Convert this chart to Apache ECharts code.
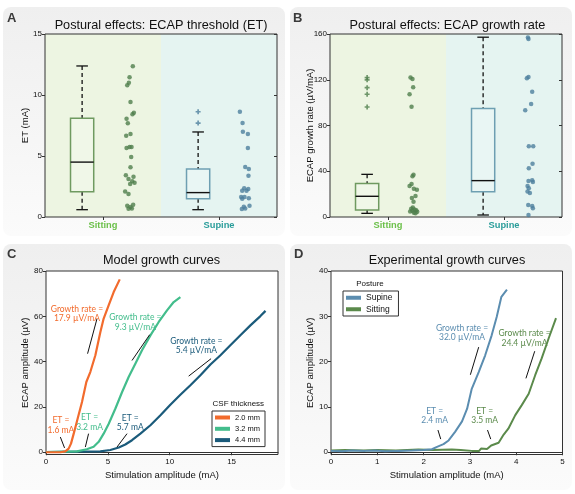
<!DOCTYPE html>
<html lang="en">
<head>
<meta charset="utf-8">
<title>ECAP posture figure</title>
<script src="https://cdn.jsdelivr.net/npm/echarts@6/dist/echarts.min.js"></script>
<style>
    * { margin: 0; padding: 0; }
    html, body { width: 100%; height: 100%; background: #fff; overflow: hidden; }
    #main { width: 575px; height: 494px; }
</style>
</head>
<body>
<div id="main"></div>
<script>
    // ---- data ----
    var groups = ['Sitting', 'Supine'];

    // box stats: [lower whisker, Q1, median, Q3, upper whisker]
    var etBox = [[0.6, 2.07, 4.5, 8.09, 12.38], [0.6, 1.5, 2.0, 3.93, 6.97]];
    var etOutliers = [[], [7.7, 8.63]];
    var etSitting = [12.35, 11.45, 11.0, 10.8, 9.43, 8.55, 8.42, 8.06, 7.68, 6.8, 6.66, 5.74, 5.74, 5.65, 4.92,
        4.07, 3.42, 3.3, 3.11, 2.93, 2.81, 2.7, 2.08, 1.88, 1.01, 0.93, 0.82, 0.7, 0.68];
    var etSittingJitter = [0.037, 0.009, 0.003, -0.011, 0.017, 0.046, 0.034, -0.017, -0.006, 0.017, -0.02, 0.026, 0.009,
        -0.017, 0.023, 0.017, -0.023, 0.043, 0, 0.032, 0.052, 0.014, -0.029, 0, 0.04, -0.011, 0.017, 0.029, 0];
    var etSupine = [8.63, 7.7, 6.99, 6.8, 5.66, 4.1, 3.93, 3.39, 2.35, 2.3, 2.16, 2.16, 1.64, 1.64, 1.53, 1.5,
        0.93, 0.85, 0.7, 0.66];
    var etSupineJitter = [-0.04, -0.017, -0.014, 0.029, 0.029, 0.006, 0.037, 0.034, -0.003, 0.032, -0.02, 0.017,
        -0.029, 0, 0.037, -0.02, 0.043, -0.006, 0.006, -0.023];

    var grBox = [[3.2, 6.1, 18.1, 29.2, 37.3], [1.75, 22.1, 31.8, 94.8, 157.2]];
    var grOutliers = [[96.2, 107.3, 113.1, 119.9, 121.9], []];
    var grSitting = [121.9, 120.7, 113.5, 107.3, 96.5, 37.0, 35.6, 28.9, 27.1, 24.8, 23.9, 18.4, 16.6, 13.4, 8.2,
        7.3, 6.5, 5.8, 5.5, 4.7, 4.5, 3.8, 3.2];
    var grSittingJitter = [-0.026, -0.009, -0.003, -0.034, -0.017, 0, -0.009, -0.017, -0.034, 0.003, 0.029, 0.017,
        -0.014, 0, -0.006, -0.02, 0.009, 0.023, -0.011, -0.029, 0.032, 0.003, 0.017];
    var grSupine = [156.9, 155.7, 122.5, 121.3, 109.6, 98.9, 93.3, 61.8, 61.8, 46.6, 42.6, 32.1, 31.5, 30.5, 27.1,
        25.1, 22.2, 21.0, 10.5, 9.6, 7.6, 1.75];
    var grSupineJitter = [-0.014, -0.009, -0.009, -0.023, 0.023, 0.014, -0.037, -0.006, 0.032, 0.026, -0.006, 0.023,
        -0.009, 0.029, -0.017, -0.006, -0.017, 0.003, -0.011, 0.023, 0.029, -0.009];

    // model growth curves (stimulation mA, ECAP uV), one per CSF thickness
    var csfNames = ['2.0 mm', '3.2 mm', '4.4 mm'];
    var model20 = [[0, 0], [1.16, 0], [1.56, 0.4], [1.83, 1.6], [2.02, 3.8], [2.24, 8.2], [2.56, 14.9], [2.91, 22.2],
        [3.26, 31], [3.58, 35.4], [3.99, 42.8], [4.39, 53], [4.66, 59], [5.07, 64.9], [5.47, 70.7], [5.96, 76.3]];
    var model32 = [[0, 0.1], [2.5, 0.4], [3.3, 1.3], [3.85, 2.4], [4.26, 4.6], [4.66, 8.2], [5.07, 12.6], [5.61, 19.3],
        [6.15, 26.6], [6.68, 33.2], [7.22, 39.1], [7.76, 45], [8.44, 51.6], [9.11, 57.5], [9.78, 62.6], [10.32, 66.3],
        [10.86, 68.5]];
    var model44 = [[0, 0.1], [4.39, 0.4], [5.2, 1.0], [5.88, 2.1], [6.41, 3.4], [6.95, 5.3], [7.63, 8.2], [8.44, 11.9],
        [9.25, 16.3], [10.05, 21], [10.86, 25.4], [11.67, 29.6], [12.48, 34], [13.29, 38.7], [14.1, 42.8],
        [14.9, 47.2], [15.71, 51.6], [16.52, 56], [17.33, 60.1], [17.74, 62.4]];
    var modelET = [1.6, 3.2, 5.7];
    var modelRate = [17.9, 9.3, 5.4];

    // experimental growth curves
    var postureNames = ['Supine', 'Sitting'];
    var expSupine = [[0, 0.3], [0.24, 0.2], [0.45, 0.37], [0.74, 0.3], [0.96, 0.37], [1.17, 0.2], [1.46, 0.3],
        [1.75, 0.37], [2.0, 0.5], [2.18, 0.66], [2.29, 1.2], [2.43, 1.8], [2.54, 2.6], [2.68, 4.5], [2.83, 6.8],
        [2.94, 9.6], [3.04, 14], [3.19, 17.7], [3.33, 21.4], [3.47, 25.8], [3.58, 29.9], [3.68, 34.3], [3.8, 35.9]];
    var expSitting = [[0, 0.4], [0.3, 0.5], [0.7, 0.4], [1.0, 0.5], [1.4, 0.4], [1.89, 0.6], [2.2, 0.5], [2.61, 0.6],
        [2.8, 0.5], [3.04, 0.3], [3.2, 0.3], [3.24, 0.8], [3.37, 0.7], [3.46, 1.5], [3.62, 2.1], [3.73, 3.9],
        [3.83, 5.2], [3.98, 8.2], [4.12, 10.4], [4.27, 12.9], [4.41, 17], [4.55, 20.7], [4.7, 25.1], [4.86, 29.6]];
    var expET = [2.4, 3.5];
    var expRate = [32.0, 24.4];

    // ---- styling / layout ----
    var FONT = '"Liberation Sans", Arial, sans-serif';
    var NOTE_FONT = 'Lato, "Liberation Sans", sans-serif';
    var labelColors = ['#6cc04a', '#2a9d9a'];
    var bandColors = ['#edf5e2', '#e5f4f1'];
    var boxStroke = ['#6f9a60', '#6e9fb2'];
    var boxFill = ['#f0f7e8', '#e9f6f4'];
    var dotColors = ['#4f7e4c', '#4d7f9d'];
    var csfColors = ['#f26b2d', '#43bd8c', '#1b5b7b'];
    var postureColors = ['#5b8db0', '#5b8a4b'];
    var BOX_POS = 0.32, DOT_POS = 0.72;
    var PLUS = 'path://M2,0h2v2h2v2h-2v2h-2v-2h-2v-2h2z';

    // where the annotation texts / pointer lines sit (data units)
    var modelRateNotes = [
        {at: [2.5, 61.2], line: [[4.12, 58.9], [3.36, 43.5]]},
        {at: [7.22, 57.4], line: [[8.38, 51.9], [6.95, 40.5]]},
        {at: [12.15, 47.1], line: [[13.34, 41.3], [11.53, 33.6]]}
    ];
    var modelEtNotes = [
        {at: [1.21, 11.9], line: [[1.16, 6.7], [1.5, 1.9]]},
        {at: [3.52, 13.3], line: [[3.44, 8.2], [3.18, 2.3]]},
        {at: [6.81, 13.1], line: [[6.55, 8.2], [5.74, 2.3]]}
    ];
    var expRateNotes = [
        {at: [2.83, 26.4], line: [[3.19, 23.2], [3.01, 17.1]]},
        {at: [4.18, 25.1], line: [[4.4, 22.3], [4.21, 16.3]]}
    ];
    var expEtNotes = [
        {at: [2.24, 8.0], line: [[2.31, 4.9], [2.37, 2.9]]},
        {at: [3.32, 8.0], line: [[3.38, 4.9], [3.45, 2.9]]}
    ];

    function bandRender(params, api) {
        var i = api.value(0);
        var a = api.coord([i, 0]);
        var b = api.coord([i + 1, 0]);
        var cs = params.coordSys;
        return {type: 'rect', shape: {x: a[0], y: cs.y, width: b[0] - a[0], height: cs.height},
            style: {fill: bandColors[i]}};
    }

    function boxRender(params, api) {
        var x = api.value(0);
        var i = params.dataIndex;
        var lo = api.coord([x, api.value(1)]);
        var q1 = api.coord([x, api.value(2)]);
        var md = api.coord([x, api.value(3)]);
        var q3 = api.coord([x, api.value(4)]);
        var hi = api.coord([x, api.value(5)]);
        var w = api.size([0.2, 0])[0];
        var cw = api.size([0.1, 0])[0];
        var cx = lo[0];
        var dash = {stroke: '#111', lineWidth: 1.3, lineDash: [4, 3]};
        var solid = {stroke: '#111', lineWidth: 1.3};
        return {
            type: 'group',
            children: [
                {type: 'line', shape: {x1: cx, y1: hi[1], x2: cx, y2: q3[1]}, style: dash},
                {type: 'line', shape: {x1: cx, y1: q1[1], x2: cx, y2: lo[1]}, style: dash},
                {type: 'line', shape: {x1: cx - cw / 2, y1: hi[1], x2: cx + cw / 2, y2: hi[1]}, style: solid},
                {type: 'line', shape: {x1: cx - cw / 2, y1: lo[1], x2: cx + cw / 2, y2: lo[1]}, style: solid},
                {type: 'rect', shape: {x: cx - w / 2, y: q3[1], width: w, height: q1[1] - q3[1]},
                    style: {fill: boxFill[i], stroke: boxStroke[i], lineWidth: 1.5}},
                {type: 'line', shape: {x1: cx - w / 2, y1: md[1], x2: cx + w / 2, y2: md[1]},
                    style: {stroke: '#111', lineWidth: 1.4}}
            ]
        };
    }

    function bandSeries(xi, yi) {
        return {
            type: 'custom', name: 'band' + xi, xAxisIndex: xi, yAxisIndex: yi, z: -2, silent: true,
            renderItem: bandRender,
            data: groups.map(function (g, i) { return [i, 0]; })
        };
    }

    function boxSeries(stats, xi, yi) {
        return {
            type: 'custom', name: 'box' + xi, xAxisIndex: xi, yAxisIndex: yi, z: -1, silent: true,
            renderItem: boxRender,
            data: stats.map(function (s, i) { return [i + BOX_POS].concat(s); })
        };
    }

    function outlierSeries(outs, xi, yi) {
        var pts = [];
        outs.forEach(function (list, i) {
            list.forEach(function (v) {
                pts.push({value: [i + BOX_POS, v], itemStyle: {color: dotColors[i]}});
            });
        });
        return {type: 'scatter', name: 'out' + xi, xAxisIndex: xi, yAxisIndex: yi, symbol: PLUS,
            symbolSize: 5, data: pts};
    }

    function dotSeries(vals, jit, g, xi, yi) {
        return {
            type: 'scatter', name: 'dots' + xi + g, xAxisIndex: xi, yAxisIndex: yi, symbolSize: 4.5,
            itemStyle: {color: dotColors[g]},
            data: vals.map(function (v, k) { return [g + DOT_POS + jit[k], v]; })
        };
    }

    // one growth-rate note and one ET note for a curve
    function curveNotes(color, rateText, etText, rateNote, etNote) {
        var label = function (t) {
            return {show: true, position: 'inside', formatter: t, color: color, fontSize: 8.5, lineHeight: 9.5,
                fontFamily: NOTE_FONT};
        };
        return {
            markPoint: {
                silent: true, symbol: 'circle', symbolSize: 1, itemStyle: {color: 'transparent'},
                data: [{coord: rateNote.at, label: label(rateText)}, {coord: etNote.at, label: label(etText)}]
            },
            markLine: {
                silent: true, symbol: ['none', 'none'], label: {show: false},
                lineStyle: {color: '#111', width: 1, type: 'solid'},
                data: [[{coord: rateNote.line[0]}, {coord: rateNote.line[1]}],
                    [{coord: etNote.line[0]}, {coord: etNote.line[1]}]]
            }
        };
    }

    function curveSeries(name, data, color, xi, yi, width, notes) {
        return {
            type: 'line', name: name, xAxisIndex: xi, yAxisIndex: yi, data: data, symbol: 'none',
            lineStyle: {color: color, width: width}, itemStyle: {color: color},
            markPoint: notes.markPoint, markLine: notes.markLine
        };
    }

    function rateText(v) { return 'Growth rate =\n' + v.toFixed(1) + ' µV/mA'; }
    function etText(v) { return 'ET =\n' + v.toFixed(1) + ' mA'; }

    var tickLabel = {fontSize: 8, color: '#111', margin: 3, fontFamily: FONT};
    var axisName = {fontSize: 9.5, color: '#111', fontFamily: FONT};
    var lineDark = {show: true, lineStyle: {color: '#333', width: 1}};

    function catAxis(gi) {
        return {
            type: 'category', gridIndex: gi, position: 'bottom', boundaryGap: true,
            data: groups.map(function (g, i) { return {value: g, textStyle: {color: labelColors[i]}}; }),
            axisLine: {show: false},
            axisTick: {show: true, alignWithLabel: true, length: 3, lineStyle: {color: '#333'}},
            axisLabel: {fontSize: 9.3, fontWeight: 'bold', margin: 4, fontFamily: FONT},
            splitLine: {show: false}
        };
    }

    function valX(gi, max, interval) {
        return {
            type: 'value', gridIndex: gi, min: 0, max: max, interval: interval,
            name: 'Stimulation amplitude (mA)', nameLocation: 'middle', nameGap: 16, nameTextStyle: axisName,
            nameMoveOverlap: false,
            axisLine: lineDark, axisTick: {show: true, length: 3, lineStyle: {color: '#333'}},
            axisLabel: Object.assign({}, tickLabel, {showMaxLabel: max % interval === 0}),
            splitLine: {show: false}
        };
    }

    function valY(gi, min, max, interval, name, gap, pos) {
        var a = {
            type: 'value', gridIndex: gi, min: min, max: max,
            axisLine: {show: false},
            axisTick: {show: true, length: 3, lineStyle: {color: '#333'}},
            axisLabel: tickLabel, splitLine: {show: false}
        };
        if (interval) a.interval = interval;
        if (name) {
            a.name = name; a.nameLocation = 'middle'; a.nameGap = gap; a.nameTextStyle = axisName;
            a.nameMoveOverlap = false;
        }
        if (min < 0) a.axisLabel = Object.assign({}, tickLabel, {showMinLabel: false});
        if (pos === 'right') {
            a.position = 'right';
            a.axisTick = {show: true, inside: true, length: 3, lineStyle: {color: '#333'}};
            a.axisLabel = {show: false};
        }
        return a;
    }

    function card(x, y) {
        return {
            type: 'rect', z: -10, shape: {x: x, y: y, width: 282, height: y < 100 ? 229 : 246, r: 8},
            style: {fill: {type: 'linear', x: 0, y: 0, x2: 0, y2: 1,
                colorStops: [{offset: 0, color: '#efefef'}, {offset: 1, color: '#fbfbfb'}]}}
        };
    }

    function text(str, x, y, size, weight, color, align) {
        return {type: 'text', z: 10, x: x, y: y,
            style: {text: str, font: (weight || 'normal') + ' ' + size + 'px ' + FONT, fill: color || '#111',
                align: align || 'center', verticalAlign: 'middle'}};
    }

    var chart = echarts.init(document.getElementById('main'));

    var option = {
        animation: false,
        backgroundColor: '#fff',
        textStyle: {fontFamily: FONT},
        graphic: [
            card(3, 7), card(290, 7), card(3, 244), card(290, 244),
            text('A', 7, 18.5, 13, 'bold', '#3a3a3a', 'left'),
            text('B', 293, 18.5, 13, 'bold', '#3a3a3a', 'left'),
            text('C', 7, 254.7, 13, 'bold', '#3a3a3a', 'left'),
            text('D', 294, 254.7, 13, 'bold', '#3a3a3a', 'left'),
            text('Postural effects: ECAP threshold (ET)', 161, 25, 12.7),
            text('Postural effects: ECAP growth rate', 447.5, 25, 12.7),
            text('Model growth curves', 161.5, 260, 12.7),
            text('Experimental growth curves', 447, 260, 12.7),
            text('CSF thickness', 238.3, 404, 8),
            text('Posture', 370, 284, 8)
        ],
        grid: [
            {left: 45, top: 34, width: 232, height: 183, show: true, borderColor: '#333', borderWidth: 1,
                backgroundColor: 'transparent'},
            {left: 330, top: 34, width: 232, height: 183, show: true, borderColor: '#333', borderWidth: 1,
                backgroundColor: 'transparent'},
            {left: 46, top: 271, width: 232, height: 183.5, show: true, borderColor: '#333', borderWidth: 1,
                backgroundColor: '#fff'},
            {left: 331, top: 271, width: 231.5, height: 183.5, show: true, borderColor: '#333', borderWidth: 1,
                backgroundColor: '#fff'}
        ],
        legend: [
            {
                data: csfNames, orient: 'vertical', left: 212, top: 411, icon: 'rect', itemWidth: 15, itemHeight: 4,
                itemGap: 2.3, padding: [2, 5, 2, 3], borderColor: '#333', borderWidth: 1, backgroundColor: '#fff',
                textStyle: {fontSize: 7.5, color: '#111', lineHeight: 9, fontFamily: FONT}, selectedMode: false
            },
            {
                data: postureNames, orient: 'vertical', left: 343, top: 291, icon: 'rect', itemWidth: 15, itemHeight: 4,
                itemGap: 2, padding: [2, 6, 2, 3], borderColor: '#333', borderWidth: 1, backgroundColor: '#fff',
                textStyle: {fontSize: 8.5, color: '#111', lineHeight: 9.5, fontFamily: FONT}, selectedMode: false
            }
        ],
        xAxis: [
            {type: 'value', gridIndex: 0, min: 0, max: 2, show: false},
            catAxis(0),
            {type: 'value', gridIndex: 1, min: 0, max: 2, show: false},
            catAxis(1),
            valX(2, 18.75, 5),
            valX(3, 5, 1)
        ],
        yAxis: [
            valY(0, 0, 15, 5, 'ET (mA)', 15),
            valY(1, 0, 160, 40, 'ECAP growth rate (µV/mA)', 15),
            valY(2, -1, 80, null, 'ECAP amplitude (µV)', 16),
            valY(3, -0.5, 40, null, 'ECAP amplitude (µV)', 16),
            valY(0, 0, 15, 5, null, 0, 'right'),
            valY(1, 0, 160, 40, null, 0, 'right')
        ],
        series: [
            bandSeries(0, 0),
            boxSeries(etBox, 0, 0),
            outlierSeries(etOutliers, 0, 0),
            dotSeries(etSitting, etSittingJitter, 0, 0, 0),
            dotSeries(etSupine, etSupineJitter, 1, 0, 0),

            bandSeries(2, 1),
            boxSeries(grBox, 2, 1),
            outlierSeries(grOutliers, 2, 1),
            dotSeries(grSitting, grSittingJitter, 0, 2, 1),
            dotSeries(grSupine, grSupineJitter, 1, 2, 1),

            curveSeries(csfNames[2], model44, csfColors[2], 4, 2, 2.2, curveNotes(csfColors[2],
                rateText(modelRate[2]), etText(modelET[2]), modelRateNotes[2], modelEtNotes[2])),
            curveSeries(csfNames[1], model32, csfColors[1], 4, 2, 2.2, curveNotes(csfColors[1],
                rateText(modelRate[1]), etText(modelET[1]), modelRateNotes[1], modelEtNotes[1])),
            curveSeries(csfNames[0], model20, csfColors[0], 4, 2, 2.2, curveNotes(csfColors[0],
                rateText(modelRate[0]), etText(modelET[0]), modelRateNotes[0], modelEtNotes[0])),

            curveSeries(postureNames[1], expSitting, postureColors[1], 5, 3, 2, curveNotes(postureColors[1],
                rateText(expRate[1]), etText(expET[1]), expRateNotes[1], expEtNotes[1])),
            curveSeries(postureNames[0], expSupine, postureColors[0], 5, 3, 2, curveNotes(postureColors[0],
                rateText(expRate[0]), etText(expET[0]), expRateNotes[0], expEtNotes[0]))
        ]
    };

    chart.setOption(option);
</script>
</body>
</html>
